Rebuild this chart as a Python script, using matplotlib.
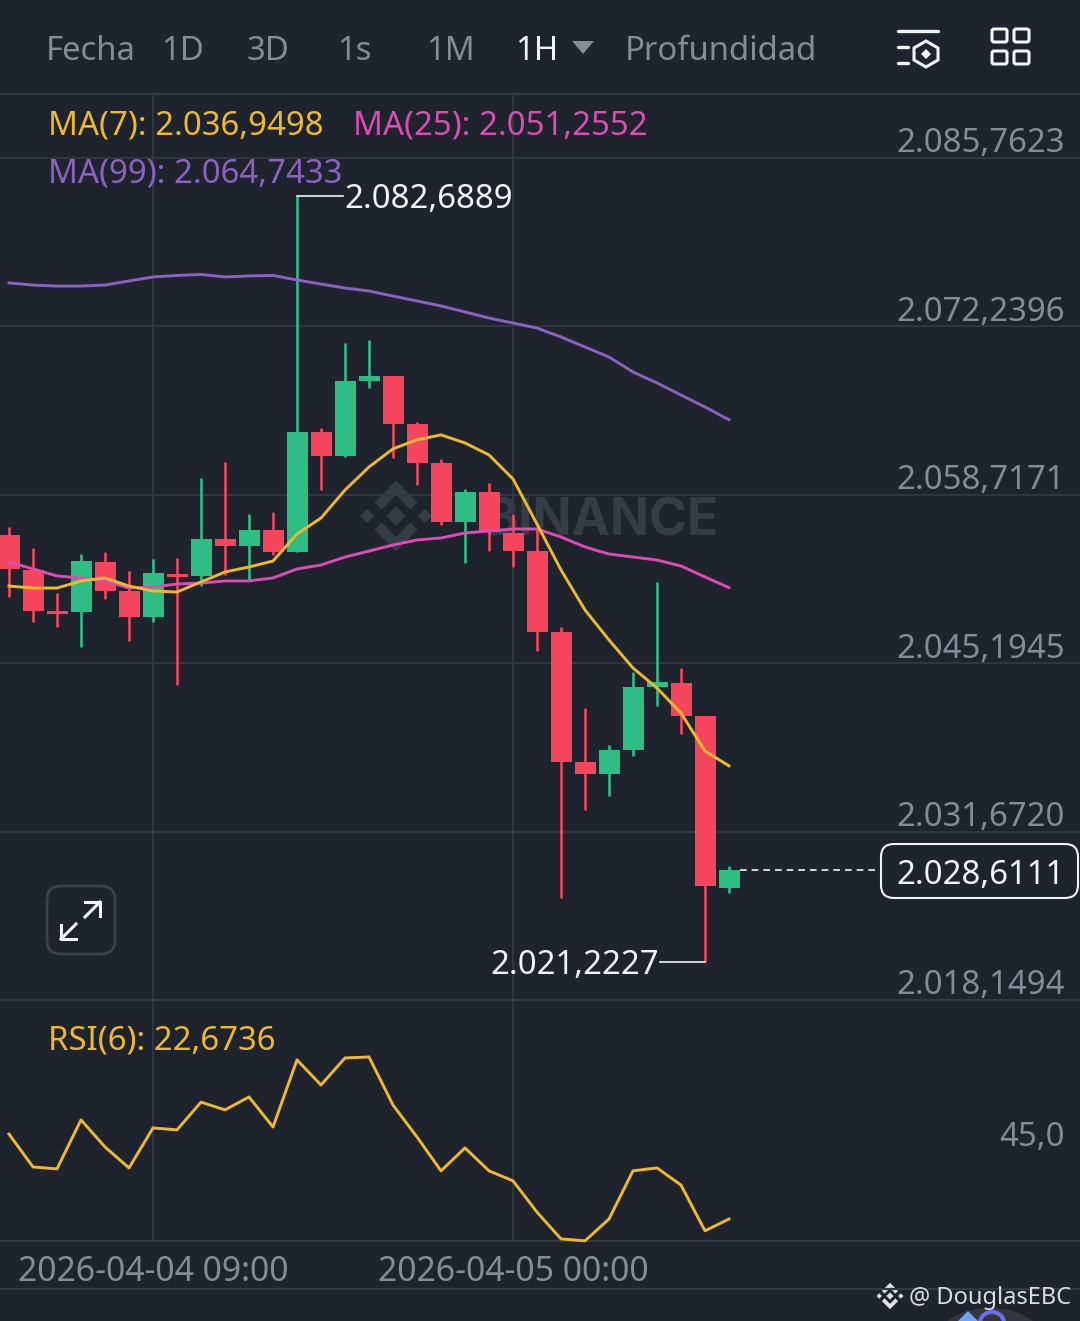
import matplotlib
matplotlib.use("Agg")
import matplotlib.pyplot as plt
from matplotlib.patches import FancyBboxPatch, Polygon, Ellipse, Arc

plt.rcParams['font.family'] = ['Noto Sans', 'DejaVu Sans']

# candles, hourly
opens = [2055.49, 2052.68, 2049.39, 2049.31, 2053.32, 2050.99, 2048.90, 2052.36, 2052.20, 2055.17, 2054.61, 2055.89, 2054.12, 2063.76, 2061.83, 2067.86,
         2068.26, 2064.40, 2061.27, 2056.53, 2058.94, 2055.65, 2054.20, 2047.70, 2037.26, 2036.30, 2038.22, 2043.28, 2043.61, 2040.96, 2027.14]
highs = [2056.13, 2054.45, 2050.83, 2053.96, 2054.12, 2052.60, 2053.56, 2053.64, 2060.07, 2061.35, 2057.18, 2057.34, 2082.69, 2064.08, 2070.91, 2071.15,
         2068.26, 2064.56, 2061.59, 2059.18, 2059.67, 2057.18, 2055.89, 2048.10, 2041.60, 2038.63, 2044.49, 2051.72, 2044.81, 2040.96, 2028.91]
lows = [2050.51, 2048.50, 2048.10, 2046.50, 2050.35, 2046.98, 2048.50, 2043.44, 2051.39, 2052.28, 2051.80, 2053.88, 2054.12, 2059.10, 2061.75, 2067.29,
        2061.67, 2059.50, 2056.29, 2053.24, 2054.20, 2052.92, 2046.17, 2026.34, 2033.41, 2034.53, 2037.74, 2041.76, 2039.51, 2021.22, 2026.74]
closes = [2052.76, 2049.39, 2049.15, 2053.40, 2050.99, 2048.90, 2052.44, 2052.12, 2055.17, 2054.61, 2055.89, 2054.12, 2063.76, 2061.83, 2067.86, 2068.26,
          2064.40, 2061.27, 2056.53, 2058.94, 2055.73, 2054.20, 2047.70, 2037.26, 2036.30, 2038.22, 2043.28, 2043.69, 2040.96, 2027.30, 2028.61]

ma7 = [2051.39, 2051.23, 2051.23, 2051.80, 2052.04, 2051.39, 2050.99, 2050.91, 2051.72, 2052.52, 2052.92, 2053.40, 2055.57, 2056.85, 2059.10, 2060.95,
       2062.41, 2063.13, 2063.53, 2062.88, 2061.92, 2059.99, 2056.37, 2052.68, 2049.47, 2047.06, 2044.81, 2043.20, 2041.19, 2038.14, 2036.95]
ma25 = [2053.32, 2052.76, 2052.20, 2052.04, 2051.80, 2051.23, 2051.31, 2051.55, 2051.63, 2051.80, 2051.80, 2052.04, 2052.76, 2053.08, 2053.72, 2054.20,
        2054.69, 2055.09, 2055.25, 2055.65, 2055.81, 2055.97, 2055.97, 2055.33, 2054.53, 2053.96, 2053.72, 2053.48, 2053.00, 2052.12, 2051.26]
ma99 = [2075.73, 2075.56, 2075.48, 2075.48, 2075.56, 2075.89, 2076.21, 2076.33, 2076.41, 2076.21, 2076.29, 2076.33, 2075.97, 2075.64, 2075.32, 2075.08,
        2074.68, 2074.28, 2073.88, 2073.40, 2072.91, 2072.51, 2072.11, 2071.39, 2070.59, 2069.78, 2068.58, 2067.70, 2066.73, 2065.77, 2064.74]
rsi = [49.0, 38.8, 38.2, 53.4, 45.0, 38.5, 50.9, 50.3, 58.9, 56.5, 60.5, 51.2, 72.0, 64.2, 72.6, 72.9,
       58.0, 48.1, 37.6, 44.7, 37.6, 34.5, 24.8, 16.5, 15.9, 22.67, 37.6, 38.5, 33.2, 19.0, 22.67]

price_levels = [2085.7623, 2072.2396, 2058.7171, 2045.1945, 2031.6720, 2018.1494]
price_labels = ["2.085,7623", "2.072,2396", "2.058,7171", "2.045,1945", "2.031,6720", "2.018,1494"]
time_ticks = [6, 21]
time_labels = ["2026-04-04 09:00", "2026-04-05 00:00"]
menu_items = ["Fecha", "1D", "3D", "1s", "1M", "1H", "Profundidad"]

BG = "#1E232D"
GRID = "#333944"
GREY = "#858C97"
GREEN = "#2EBD85"
RED = "#F6465D"
YELLOW = "#EFB92F"
PINK = "#DB4DB2"
PURPLE = "#8A63C2"
WHITE = "#F2F3F5"
W, H = 1080, 1321
FS = 23.7

fig = plt.figure(figsize=(W / 100, H / 100), dpi=100, facecolor=BG)

# page layer in pixels, sits under the charts
bg = fig.add_axes([0, 0, 1, 1], zorder=0)
bg.set_xlim(0, W)
bg.set_ylim(H, 0)
bg.axis("off")


def box(top, bottom, zorder):
    a = fig.add_axes([0, 1 - bottom / H, 1, (bottom - top) / H], zorder=zorder)
    a.patch.set_alpha(0)
    a.set_xlim(-9 / 24, (W - 9) / 24)
    for s in a.spines.values():
        s.set_visible(False)
    return a


def logo(cx, cy, r, color):
    # binance mark
    def diamond(x, y, d):
        bg.add_patch(Polygon([(x - d, y), (x, y - d), (x + d, y), (x, y + d)], fc=color, ec="none"))
    diamond(cx - 0.72 * r, cy, 0.18 * r)
    diamond(cx + 0.72 * r, cy, 0.18 * r)
    diamond(cx, cy, 0.24 * r)
    for sgn in (-1, 1):
        bg.add_patch(Polygon([(cx - 0.54 * r, cy + sgn * 0.34 * r), (cx, cy + sgn * 0.88 * r), (cx + 0.54 * r, cy + sgn * 0.34 * r),
                              (cx + 0.36 * r, cy + sgn * 0.16 * r), (cx, cy + sgn * 0.52 * r), (cx - 0.36 * r, cy + sgn * 0.16 * r)],
                             fc=color, ec="none"))


for yy in (94, 1000, 1241, 1289):
    bg.plot([0, W], [yy, yy], color=GRID, lw=1.6)

# top menu
menu_x = [46, 161, 247, 337, 426, 515, 625]
for label, x in zip(menu_items, menu_x):
    active = label == "1H"
    bg.text(x, 51, label, color=WHITE if active else GREY, fontsize=FS, va="center", ha="left",
            fontweight="medium" if active else "normal")
bg.add_patch(Polygon([(572, 41), (594, 41), (583, 54)], fc=GREY, ec="none"))

# depth icon
bg.plot([898, 938], [31, 31], color=WHITE, lw=2.4, solid_capstyle="round")
bg.plot([898, 908], [47, 47], color=WHITE, lw=2.4, solid_capstyle="round")
bg.plot([898, 908], [63, 63], color=WHITE, lw=2.4, solid_capstyle="round")
bg.add_patch(Polygon([(926, 41), (938, 48), (938, 60), (926, 67), (914, 60), (914, 48)], fc="none", ec=WHITE, lw=2.2))
bg.add_patch(Polygon([(926, 49), (931, 54), (926, 59), (921, 54)], fc=WHITE, ec="none"))
# layout icon
for x0 in (992, 1014):
    for y0 in (29, 51):
        bg.add_patch(FancyBboxPatch((x0, y0), 15, 13, boxstyle="round,pad=0,rounding_size=2", fc="none", ec=WHITE, lw=2.2))

# expand button
bg.add_patch(FancyBboxPatch((47, 886), 68, 68, boxstyle="round,pad=0,rounding_size=14", fc="none", ec="#3D434E", lw=2))
bg.plot([85, 100, 100], [902, 902, 916], color=WHITE, lw=2.2)
bg.plot([61, 61, 76], [925, 939, 939], color=WHITE, lw=2.2)
bg.plot([85, 100], [917, 902], color=WHITE, lw=2.2)
bg.plot([61, 76], [939, 924], color=WHITE, lw=2.2)

# watermark behind candles
logo(396, 516, 40, "#363C46")
bg.text(719, 522, "BINANCE", color="#363C46", fontsize=37, fontweight="bold", family="Inter", ha="right", va="center")

# footer
logo(890, 1296, 15, "#E2E3E6")
bg.text(909, 1298, "@ DouglasEBC", color="#D9DBDE", fontsize=17, va="center", ha="left")
bg.add_patch(Ellipse((990, 1345), 112, 74, fc="#343541", ec="none"))
bg.add_patch(Polygon([(958, 1321), (968, 1311), (978, 1321)], fc="#6CA4F5", ec="none"))
bg.add_patch(Arc((992, 1323), 24, 22, theta1=180, theta2=360, ec="#6E6CE8", lw=3))

# price panel
ax = box(94, 1000, 1)
px_per_price = (1000 - 158) / (price_levels[0] - price_levels[-1])
ax.set_ylim(price_levels[-1], price_levels[0] + (158 - 94) / px_per_price)
ax.set_yticks(price_levels[:-1])
ax.set_xticks(time_ticks)
ax.tick_params(length=0, labelbottom=False, labelleft=False)
ax.grid(True, color=GRID, lw=1.3)
ax.set_axisbelow(True)

xs = list(range(len(opens)))
for i in xs:
    c = GREEN if closes[i] >= opens[i] else RED
    ax.vlines(i, lows[i], highs[i], color=c, lw=1.9, zorder=2)
    ax.bar(i, abs(closes[i] - opens[i]), bottom=min(opens[i], closes[i]), width=21 / 24, color=c, zorder=2.1)

ax.plot(xs, ma99, color=PURPLE, lw=2.1, zorder=3)
ax.plot(xs, ma25, color=PINK, lw=2.1, zorder=3)
ax.plot(xs, ma7, color=YELLOW, lw=2.1, zorder=3.1)

for level, label in zip(price_levels, price_labels):
    ax.annotate(label, xy=(1, level), xycoords=("axes fraction", "data"), xytext=(-15, 14), textcoords="offset pixels",
                color=GREY, fontsize=FS, ha="right", va="center")

# legend row sits above the grid
fig.text(48 / W, 1 - 126 / H, "MA(7): 2.036,9498", color=YELLOW, fontsize=FS, va="center", zorder=5)
fig.text(353 / W, 1 - 126 / H, "MA(25): 2.051,2552", color=PINK, fontsize=FS, va="center", zorder=5)
fig.text(48 / W, 1 - 174 / H, "MA(99): 2.064,7433", color=PURPLE, fontsize=FS, va="center", zorder=5)

# high / low markers
hi_i = highs.index(max(highs))
lo_i = lows.index(min(lows))
ax.plot([hi_i, hi_i + 46 / 24], [highs[hi_i], highs[hi_i]], color=WHITE, lw=1.2, zorder=4)
ax.annotate("2.082,6889", xy=(hi_i + 47 / 24, highs[hi_i]), xytext=(0, -3), textcoords="offset pixels",
            color=WHITE, fontsize=FS, va="center", ha="left", zorder=5)
ax.plot([lo_i, lo_i - 45 / 24], [lows[lo_i], lows[lo_i]], color=WHITE, lw=1.2, zorder=4)
ax.annotate("2.021,2227", xy=(lo_i - 46 / 24, lows[lo_i]), xytext=(0, -4), textcoords="offset pixels",
            color=WHITE, fontsize=FS, va="center", ha="right", zorder=5)

# last price
last_i = xs[-1]
ax.plot([last_i + 11 / 24, (880 - 9) / 24], [closes[-1], closes[-1]], color=WHITE, lw=1.2, dashes=(4, 3), zorder=4)
bg.add_patch(FancyBboxPatch((881, 844), 197, 54, boxstyle="round,pad=0,rounding_size=13", fc=BG, ec=WHITE, lw=1.5, zorder=4))
bg.text(980, 875, "2.028,6111", color=WHITE, fontsize=FS, ha="center", va="center", zorder=5)

# rsi panel
ax2 = box(1000, 1241, 1)
rsi_per_px = 0.31
ax2.set_ylim(rsi[-1] + (1219 - 1241) * rsi_per_px, rsi[-1] + (1219 - 1000) * rsi_per_px)
ax2.set_yticks([])
ax2.set_xticks(time_ticks)
ax2.set_xticklabels(time_labels, color=GREY, fontsize=24.3)
ax2.tick_params(length=0, pad=10)
ax2.grid(True, axis="x", color=GRID, lw=1.3)
ax2.set_axisbelow(True)
ax2.plot(xs, rsi, color=YELLOW, lw=2.1, clip_on=False)
ax2.annotate("45,0", xy=(1, 45), xycoords=("axes fraction", "data"), xytext=(-15, 9), textcoords="offset pixels",
             color=GREY, fontsize=FS, ha="right", va="center")
ax2.text(48 / W, 1 - 41 / 241, "RSI(6): 22,6736", transform=ax2.transAxes, color=YELLOW, fontsize=FS, va="center")

fig.savefig("out.png", dpi=100, facecolor=BG)
